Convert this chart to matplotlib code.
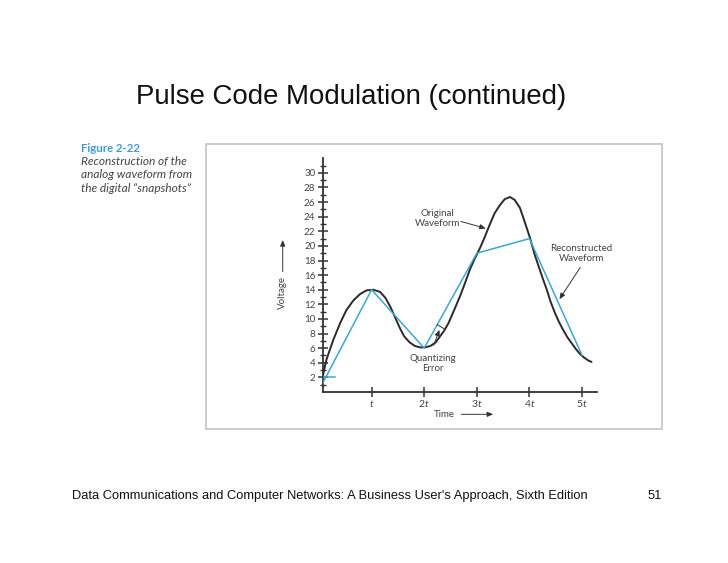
import matplotlib
matplotlib.use('Agg')
import matplotlib.pyplot as plt
from matplotlib.patches import Rectangle
from matplotlib.ticker import FixedLocator

# original analog waveform
orig_t = [0.07, 0.14, 0.27, 0.40, 0.52, 0.65, 0.78, 0.90, 1.03, 1.16, 1.26, 1.36,
          1.44, 1.54, 1.62, 1.72, 1.82, 1.92, 2.02, 2.12, 2.22, 2.30, 2.38, 2.46,
          2.58, 2.68, 2.78, 2.87, 2.97, 3.06, 3.15, 3.25, 3.34, 3.44, 3.53, 3.63,
          3.72, 3.82, 3.91, 4.01, 4.10, 4.17, 4.25, 4.33, 4.40, 4.48, 4.56, 4.64,
          4.72, 4.80, 4.88, 4.96, 5.04, 5.12, 5.18]
orig_v = [2.1, 4.4, 7.1, 9.4, 11.2, 12.5, 13.4, 13.9, 14.0, 13.7, 12.9, 11.6,
          10.3, 8.7, 7.6, 6.8, 6.3, 6.1, 6.1, 6.3, 6.8, 7.6, 8.4, 9.4,
          11.4, 13.1, 15.0, 16.8, 18.4, 19.7, 21.2, 23.0, 24.5, 25.6, 26.4, 26.7,
          26.3, 25.2, 23.3, 21.1, 18.8, 17.3, 15.6, 14.0, 12.4, 10.9, 9.6, 8.5,
          7.5, 6.7, 5.9, 5.2, 4.7, 4.3, 4.1]

# reconstructed waveform from the samples
recon_t = [0.07, 1, 2, 3, 4, 5]
recon_v = [1.2, 14, 6, 19, 21, 5]

ytick_major = list(range(2, 31, 2))
ytick_minor = list(range(1, 32, 2))
xtick_pos = [1, 2, 3, 4, 5]
xtick_lab = [r'$\mathit{t}$', r'$2\mathit{t}$', r'$3\mathit{t}$', r'$4\mathit{t}$', r'$5\mathit{t}$']

title = "Pulse Code Modulation (continued)"
footer = "Data Communications and Computer Networks: A Business User's Approach, Sixth Edition"
caption = ["Reconstruction of the", "analog waveform from", "the digital \u201csnapshots\u201d"]

W, H = 728, 563
plt.rcParams['mathtext.fontset'] = 'custom'
plt.rcParams['mathtext.rm'] = 'Lato'
plt.rcParams['mathtext.it'] = 'Lato:italic'

fig = plt.figure(figsize=(W / 100, H / 100), dpi=100)
fig.patch.set_facecolor('white')

def fx(px):
    return px / W

def fy(py):
    return 1 - py / H

# slide text
fig.text(fx(351), fy(97), title, ha='center', va='center', fontsize=19.9,
         family='Liberation Sans', color='#111111')
fig.text(fx(72), fy(496), footer, ha='left', va='center', fontsize=9.25,
         family='Liberation Sans', color='#111111')
fig.text(fx(655), fy(496), "51", ha='center', va='center', fontsize=9.25,
         family='Liberation Sans', color='#111111')

# figure caption on the left
fig.text(fx(81), fy(148), "Figure 2-22", ha='left', va='center', fontsize=8.2,
         family='Lato', weight='bold', color='#3d9ad6')
for i, line in enumerate(caption):
    fig.text(fx(81), fy(161 + 14 * i), line, ha='left', va='center', fontsize=8.6,
             family='Lato', style='italic', color='#444444')

# frame round the figure
fig.patches.append(Rectangle((fx(206), fy(428.5)), fx(661.5) - fx(206), fy(143.5) - fy(428.5),
                             transform=fig.transFigure, fill=False, ec='#c8c8c8', lw=1.3))

ax = fig.add_axes([fx(322.7), fy(391.9), fx(597.3) - fx(322.7), fy(158.3) - fy(391.9)])
ax.set_xlim(0.07, 5.29)
ax.set_ylim(0, 32)
ax.patch.set_alpha(0)
for s in ['top', 'right']:
    ax.spines[s].set_visible(False)
for s in ['left', 'bottom']:
    ax.spines[s].set_linewidth(1.3)
    ax.spines[s].set_color('#333333')

ax.plot(orig_t, orig_v, color='#2a2a2a', lw=1.4, solid_joinstyle='round',
        solid_capstyle='round', zorder=3)
ax.plot(recon_t, recon_v, color='#3ba7d4', lw=1.1, zorder=4)
ax.plot([0.07, 0.3], [2, 2], color='#3ba7d4', lw=1.1, zorder=4)

ax.yaxis.set_major_locator(FixedLocator(ytick_major))
ax.yaxis.set_minor_locator(FixedLocator(ytick_minor))
ax.set_yticklabels([str(v) for v in ytick_major])
ax.tick_params(axis='y', which='major', direction='inout', length=7.6, width=1.1,
               color='#333333', labelsize=7, labelcolor='#444444', pad=1.5)
ax.tick_params(axis='y', which='minor', direction='inout', length=4.3, width=1.0,
               color='#333333')
ax.set_xticks(xtick_pos)
ax.set_xticklabels(xtick_lab)
ax.tick_params(axis='x', which='major', direction='inout', length=7.4, width=1.1,
               color='#333333', labelsize=7.5, labelcolor='#444444', pad=1.0)
for lab in ax.get_yticklabels():
    lab.set_family('Lato')

ann = dict(arrowstyle='-|>,head_length=0.35,head_width=0.15', color='#333333', lw=0.7,
           shrinkA=1, shrinkB=0)
lab_kw = dict(fontsize=7, family='Lato', color='#444444', ha='center', va='center',
              linespacing=1.15)

ax.text(2.25, 23.7, "Original\nWaveform", **lab_kw)
ax.annotate("", xy=(3.17, 22.4), xytext=(2.67, 23.4), arrowprops=ann)
ax.text(4.99, 18.9, "Reconstructed\nWaveform", **lab_kw)
ax.annotate("", xy=(4.57, 12.7), xytext=(4.98, 17.2), arrowprops=ann)
ax.text(2.17, 3.9, "Quantizing\nError", **lab_kw)
ax.annotate("", xy=(2.29, 8.5), xytext=(2.17, 6.2), arrowprops=ann)
ax.plot([2.25, 2.39], [9.2, 8.6], color='#333333', lw=0.7, zorder=5)

# axis names with arrows
ax.text(2.39, -3.07, "Time", **lab_kw)
ax.annotate("", xy=(3.31, -3.07), xytext=(2.68, -3.07), arrowprops=ann,
            annotation_clip=False)
ax.text(-0.69, 13.6, "Voltage", rotation=90, **lab_kw)
ax.annotate("", xy=(-0.69, 20.8), xytext=(-0.69, 16.3), arrowprops=ann,
            annotation_clip=False)

fig.savefig('out.png', dpi=100)
